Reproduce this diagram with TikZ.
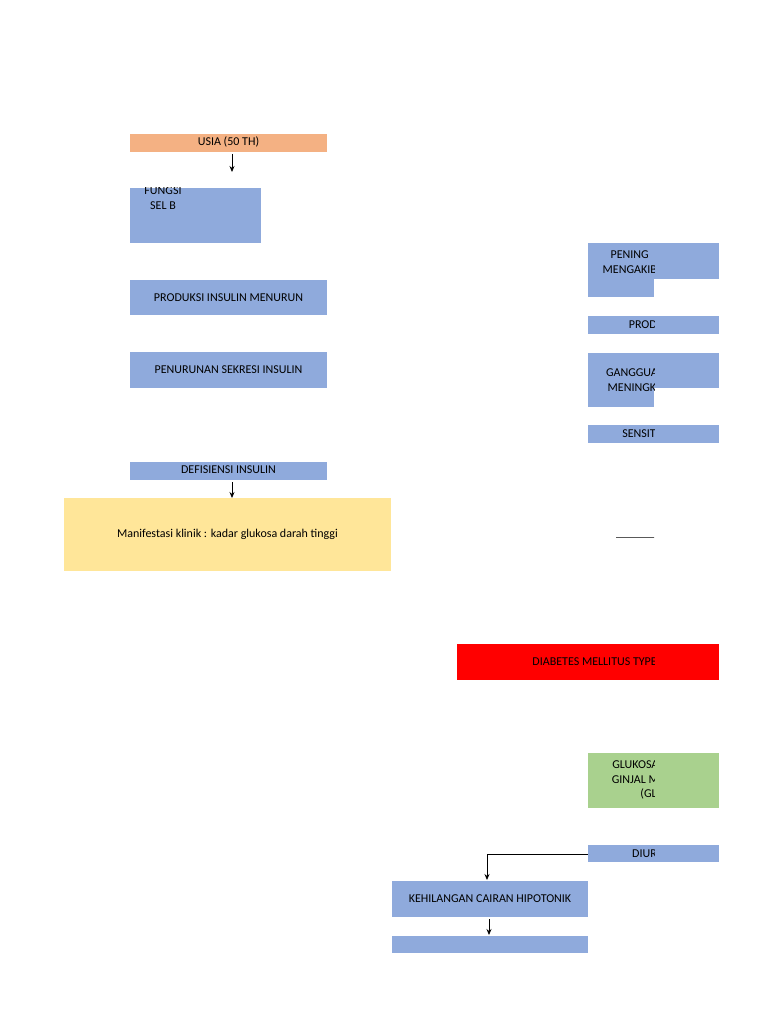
\documentclass[tikz,border=0pt]{standalone}
\usepackage{fontspec}
\setmainfont{Carlito}
\usetikzlibrary{arrows.meta}
\definecolor{bl}{HTML}{8FAADC}
\definecolor{org}{HTML}{F4B183}
\definecolor{yel}{HTML}{FFE699}
\definecolor{grn}{HTML}{A9D18E}
\tikzset{x=1pt,y=-1pt,
 txt/.style={inner sep=0pt,font=\fontsize{12}{14.5}\selectfont,align=center},
 arr/.style={-{Stealth[length=6pt,width=5pt]},line width=0.8pt}}
\begin{document}
\begin{tikzpicture}
\useasboundingbox[fill=white] (0,0) rectangle (768,1024);
% left column
\fill[org] (130,134) rectangle (327,152);
\node[txt] (usia) at (228.5,142) {USIA (50 TH)};
\fill[bl] (130,188) rectangle (261,243);
\begin{scope}
\clip (130,188) rectangle (261,243);
\node[txt] (fungsi) at (163,198) {FUNGSI\\SEL B};
\end{scope}
\fill[bl] (130,280) rectangle (327,315);
\node[txt] (prod) at (228.5,297.5) {PRODUKSI INSULIN MENURUN};
\fill[bl] (130,352) rectangle (327,388);
\node[txt] (penur) at (228.5,370) {PENURUNAN SEKRESI INSULIN};
\fill[bl] (130,462) rectangle (327,480);
\node[txt] (defis) at (228.5,470) {DEFISIENSI INSULIN};
\fill[yel] (64,498) rectangle (391,571);
\node[txt] (manif) at (227.5,534) {Manifestasi klinik : kadar glukosa darah tinggi};
\coordinate (a1) at (232,154); \coordinate (a2) at (232,172);
\draw[arr] (a1) -- (a2);
\coordinate (b1) at (232,482); \coordinate (b2) at (232,498);
\draw[arr] (b1) -- (b2);
% right column
\fill[bl] (588,243) rectangle (719,279);
\fill[bl] (588,279) rectangle (654,297);
\fill[bl] (588,316) rectangle (719,334);
\fill[bl] (588,353) rectangle (719,388);
\fill[bl] (588,388) rectangle (654,407);
\fill[bl] (588,425) rectangle (719,443);
\fill[red] (457,644) rectangle (719,680);
\fill[grn] (588,753) rectangle (719,808);
\fill[bl] (588,845) rectangle (719,862);
\begin{scope}
\clip (0,0) rectangle (654,1024);
\node[txt,anchor=east] (pen) at (657,262) {PENING\\MENGAKIB};
\node[txt,anchor=east] (prd) at (657,325) {PROD};
\node[txt,anchor=east] (gang) at (658,380) {GANGGUA\\MENINGK};
\node[txt,anchor=east] (sens) at (656,434) {SENSIT};
\node[txt,anchor=east] (dm) at (657,662) {DIABETES MELLITUS TYPE};
\node[txt,anchor=east] (glu) at (659,780) {GLUKOSA\\GINJAL M\\\hspace*{2.2em}(GL};
\node[txt,anchor=east] (diu) at (657,854) {DIUR};
\coordinate (l1) at (616,537); \coordinate (l2) at (660,537);
\draw[gray!70!black,line width=0.8pt] (l1) -- (l2);
\end{scope}
% bottom
\fill[bl] (392,881) rectangle (588,917);
\node[txt] (keh) at (490,899) {KEHILANGAN CAIRAN HIPOTONIK};
\fill[bl] (392,936) rectangle (588,953);
\begin{scope}
\clip (392,936) rectangle (588,953);
\node[txt] (poly) at (490,960) {POLYDIPSIA DI MANA OTAK};
\end{scope}
\coordinate (c1) at (588,854); \coordinate (c2) at (487,880);
\draw[arr] (c1) -| (c2);
\coordinate (d1) at (489,919); \coordinate (d2) at (489,935);
\draw[arr] (d1) -- (d2);
\end{tikzpicture}
\end{document}
